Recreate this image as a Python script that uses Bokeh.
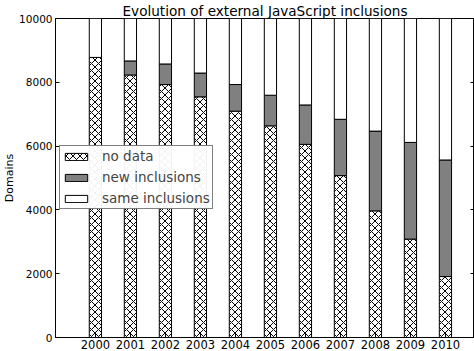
from bokeh.plotting import figure
from bokeh.models import FixedTicker, Legend, LegendItem, LinearAxis, CustomLabelingPolicy
from bokeh.embed import file_html
from bokeh.resources import INLINE

years = [2000, 2001, 2002, 2003, 2004, 2005, 2006, 2007, 2008, 2009, 2010]
no_data = [8780, 8230, 7930, 7545, 7095, 6635, 6055, 5075, 3970, 3085, 1910]
new_inclusions = [0, 440, 645, 745, 835, 960, 1235, 1765, 2500, 3030, 3655]
same_inclusions = [1220, 1330, 1425, 1710, 2070, 2405, 2710, 3160, 3530, 3885, 4435]
y_ticks = [0, 2000, 4000, 6000, 8000, 10000]

top_nd = no_data
top_new = [a + b for a, b in zip(no_data, new_inclusions)]
top_same = [a + b for a, b in zip(top_new, same_inclusions)]

FONT = "DejaVu Sans"

p = figure(width=474, height=351, output_backend="svg", toolbar_location=None,
           x_range=(1998.86, 2010.83), y_range=(0, 10000),
           title="Evolution of external JavaScript inclusions",
           min_border_left=0, min_border_right=0, min_border_top=0, min_border_bottom=0)

w = 0.35
r1 = p.vbar(x=years, bottom=0, top=top_nd, width=w, fill_color="white",
            line_color="black", line_width=1, hatch_pattern="diagonal_cross",
            hatch_color="black", hatch_scale=7, hatch_weight=1)
r2 = p.vbar(x=years, bottom=top_nd, top=top_new, width=w, fill_color="#808080",
            line_color="black", line_width=1)
r3 = p.vbar(x=years, bottom=top_new, top=top_same, width=w, fill_color="white",
            line_color="black", line_width=1)

legend = Legend(items=[LegendItem(label="no data", renderers=[r1]),
                       LegendItem(label="new inclusions", renderers=[r2]),
                       LegendItem(label="same inclusions", renderers=[r3])],
                location=(4, 128), border_line_color="black", border_line_width=1,
                label_text_font=FONT, label_text_font_size="13.5px",
                glyph_width=28, glyph_height=9, spacing=5, padding=2, margin=0,
                label_standoff=12, label_height=15)
p.add_layout(legend, "center")

p.title.text_font = FONT
p.title.text_font_size = "13.6px"
p.title.text_font_style = "normal"
p.title.text_color = "black"
p.title.align = "center"
p.title.standoff = 0
p.title.offset = 0

p.xgrid.visible = False
p.ygrid.visible = False
p.outline_line_color = "black"
p.outline_line_width = 1

no_labels = CustomLabelingPolicy(code="for (const i of [...indices]) indices.unset(i); return indices;")
right = LinearAxis(ticker=FixedTicker(ticks=y_ticks), major_label_policy=no_labels,
                   major_label_text_font_size="0px",
                   major_tick_in=4, major_tick_out=0, minor_tick_in=0, minor_tick_out=0,
                   major_label_standoff=0, axis_line_color="black")
p.add_layout(right, "right")

p.xaxis.ticker = FixedTicker(ticks=years)
p.yaxis.ticker = FixedTicker(ticks=y_ticks)
for ax in (p.xaxis, p.yaxis):
    ax.major_tick_in = 4
    ax.major_tick_out = 0
    ax.minor_tick_in = 0
    ax.minor_tick_out = 0
    ax.axis_line_color = "black"
    ax.major_label_text_font = FONT
    ax.major_label_text_color = "black"
p.xaxis.major_label_text_font_size = "11.5px"
p.yaxis[0].major_label_text_font_size = "10.5px"
p.xaxis.major_label_standoff = 2
p.yaxis[0].major_label_standoff = 3
p.yaxis[0].axis_label = "Domains"
p.yaxis[0].axis_label_text_font = FONT
p.yaxis[0].axis_label_text_font_size = "11px"
p.yaxis[0].axis_label_text_font_style = "normal"
p.yaxis[0].axis_label_text_color = "black"
p.yaxis[0].axis_label_standoff = 0

open("out.html", "w").write(file_html(p, INLINE))
